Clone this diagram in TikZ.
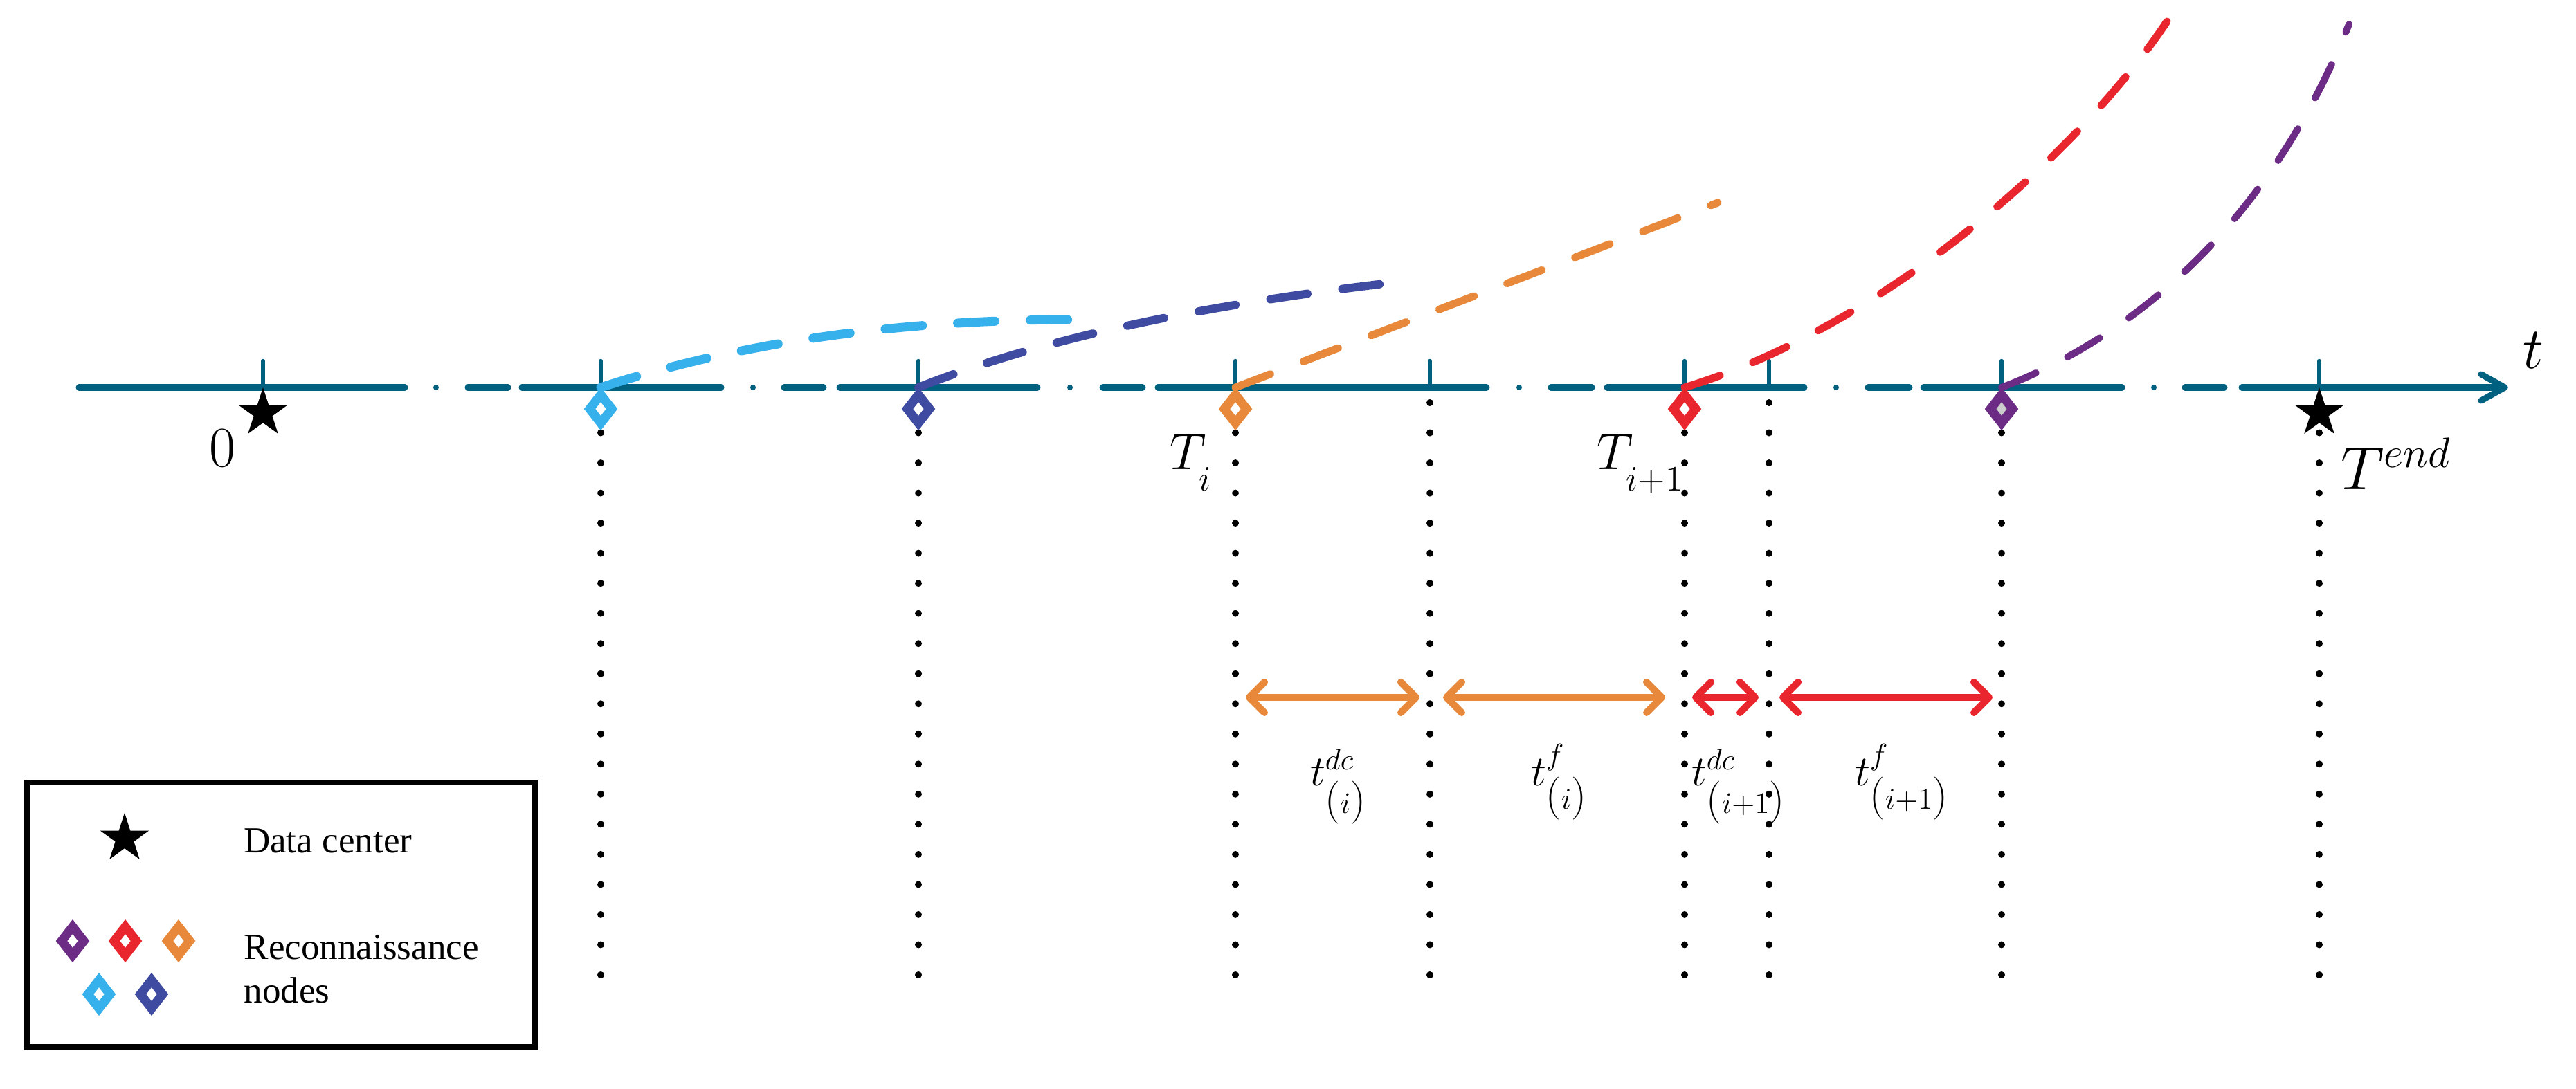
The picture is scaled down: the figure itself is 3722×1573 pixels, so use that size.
\RequirePackage{fix-cm}
\documentclass[tikz,border=0pt]{standalone}
\usepackage{amsmath}
\usepackage{fontspec}
\newfontfamily\legfont{Liberation Serif}
\usetikzlibrary{shapes.geometric,arrows.meta}
\definecolor{axisc}{RGB}{0,96,128}
\definecolor{cyanc}{RGB}{54,177,236}
\definecolor{navyc}{RGB}{63,75,160}
\definecolor{orangec}{RGB}{232,136,58}
\definecolor{redc}{RGB}{233,38,46}
\definecolor{purplec}{RGB}{108,44,134}
\newcommand\lowsub[1]{\lower0.28em\hbox{$\scriptstyle #1$}}
\newcommand\psub[1]{\lower0.4em\hbox{$\textstyle(\scriptstyle #1\textstyle)$}}
\tikzset{
  axisline/.style={draw=axisc, line width=0.09cm, line cap=round, line join=round},
  tickline/.style={draw=axisc, line width=0.065cm, line cap=round},
  dotv/.style={draw=black, line width=0.1cm, line cap=round, dash pattern=on 0pt off 0.435cm},
  rdia/.style={diamond, draw=#1, line width=0.13cm, fill=white, minimum width=0.32cm,
    minimum height=0.41cm, inner sep=0pt, outer sep=0pt},
  dstar/.style={star, star points=5, star point ratio=2.618, fill=black, draw=none,
    minimum size=0.74cm, inner sep=0pt, outer sep=0pt},
  curve/.style={line width=0.11cm, line cap=round, dash pattern=on 0.54cm off 0.51cm},
  darr/.style={line width=0.1cm, line cap=round,
    {Straight Barb[length=0.22cm,width=0.44cm,line cap=round,line join=round]}-{Straight Barb[length=0.22cm,width=0.44cm,line cap=round,line join=round]}},
  lbl/.style={inner sep=0pt, outer sep=0pt, anchor=base west}
}
\begin{document}
\begin{tikzpicture}[x=0.01cm,y=-0.01cm]
\useasboundingbox (0,0) rectangle (3722,1573);

% dotted verticals
\foreach \x in {868,1327,1785,2066,2434,2556,2892,3351}
  \draw[dotv] (\x,582) -- (\x,1411);

% axis
\foreach \a/\b in {114/585, 676/734, 754/1042, 1133/1190, 1213/1499, 1593/1651,
  1673/2148, 2241/2300, 2322/2607, 2699/2759, 2779/3066, 3157/3214}
  \draw[axisline] (\a,560) -- (\b,560);
\foreach \a in {630,1088,1546,2195,2653,3112}
  \fill[axisc] (\a,560) circle[radius=0.04cm];
\coordinate (axs) at (3239,560);
\coordinate (axe) at (3619,560);
\draw[axisline] (axs) -- (axe);
\draw[axisline] (3585,541) -- (axe) -- (3585,579);
\node[inner sep=0pt, anchor=base west, font=\fontsize{24}{28}\selectfont] (tlab) at (3645,532) {$t$};

% ticks
\foreach \x in {380,868,1327,1785,2066,2434,2556,2892,3351}
  \draw[tickline] (\x,522) -- (\x,560);

% curve start points
\coordinate (pA) at (868,560);
\coordinate (pB) at (1327,560);
\coordinate (pC) at (1785,560);
\coordinate (pD) at (2434,560);
\coordinate (pE) at (2892,560);
\coordinate (eA) at (1552,462);
\coordinate (eB) at (2000,410);
\coordinate (eC) at (2482,293);
\coordinate (eD) at (3131,31);
\coordinate (eE) at (3394,35);

% dashed curves
\draw[curve, draw=cyanc, line width=0.13cm] (pA) .. controls (1069,495) and (1297,462) .. (eA);
\draw[curve, draw=navyc, line width=0.12cm] (pB) .. controls (1492,494) and (1716,444) .. (eB);
\draw[curve, draw=orangec] (pC) -- (eC);
\draw[curve, draw=redc] (pD) .. controls (2706,478) and (2994,236) .. (eD);
\draw[curve, draw=purplec, line width=0.1cm] (pE) .. controls (3027,509) and (3259,372.5) .. (eE);

% diamonds on axis
\node[rdia=cyanc] (dA) at (868,591) {};
\node[rdia=navyc] (dB) at (1327,591) {};
\node[rdia=orangec] (dC) at (1785,591) {};
\node[rdia=redc] (dD) at (2434,591) {};
\node[rdia=purplec, fill=gray!40] (dE) at (2892,591) {};

% stars
\node[dstar] (s0) at (380,597) {};
\node[dstar] (sEnd) at (3351,597) {};

% axis labels
\node[lbl, font=\fontsize{23.5}{28}\selectfont] (zero) at (302,674) {0};
\node[lbl, font=\fontsize{21}{25}\selectfont] (Ti) at (1690,678) {$T_{\lowsub{i}}$};
\node[lbl, font=\fontsize{21}{25}\selectfont] (Ti1) at (2307,678) {$T_{\lowsub{i+1}}$};
\node[lbl, font=\fontsize{25}{30}\selectfont] (Tend) at (3382,707) {$T^{end}$};

% interval arrows
\coordinate (a1) at (1800,1008); \coordinate (a2) at (2051,1008);
\coordinate (a3) at (2085,1008); \coordinate (a4) at (2406,1008);
\coordinate (a5) at (2445,1008); \coordinate (a6) at (2541,1008);
\coordinate (a7) at (2571,1008); \coordinate (a8) at (2879,1008);
\draw[darr, draw=orangec] (a1) -- (a2);
\draw[darr, draw=orangec] (a3) -- (a4);
\draw[darr, draw=redc] (a5) -- (a6);
\draw[darr, draw=redc] (a7) -- (a8);

% interval labels
\node[lbl, font=\fontsize{17.6}{21}\selectfont] (l1) at (1893,1135) {$t^{dc}_{\psub{i}}$};
\node[lbl, font=\fontsize{17.6}{21}\selectfont] (l2) at (2212,1135) {$t^{f}_{\psub{i}}$};
\node[lbl, font=\fontsize{17.6}{21}\selectfont] (l3) at (2444,1135) {$t^{dc}_{\psub{i+1}}$};
\node[lbl, font=\fontsize{17.6}{21}\selectfont] (l4) at (2680,1135) {$t^{f}_{\psub{i+1}}$};

% legend
\draw[line width=0.08cm] (39,1131) rectangle (773,1513);
\node[dstar] (legstar) at (180,1212) {};
\node[lbl, font=\legfont\fontsize{15.1}{17.9}\selectfont] (legdc) at (352,1232) {Data center};
\node[rdia=purplec] (lg1) at (105,1360) {};
\node[rdia=redc] (lg2) at (181,1360) {};
\node[rdia=orangec] (lg3) at (258,1360) {};
\node[rdia=cyanc] (lg4) at (143,1437) {};
\node[rdia=navyc] (lg5) at (219,1437) {};
\node[inner sep=0pt, anchor=north west, align=left, font=\legfont\fontsize{15.1}{17.9}\selectfont] (legrn) at (352,1351) {Reconnaissance\\nodes};
\end{tikzpicture}
\end{document}
